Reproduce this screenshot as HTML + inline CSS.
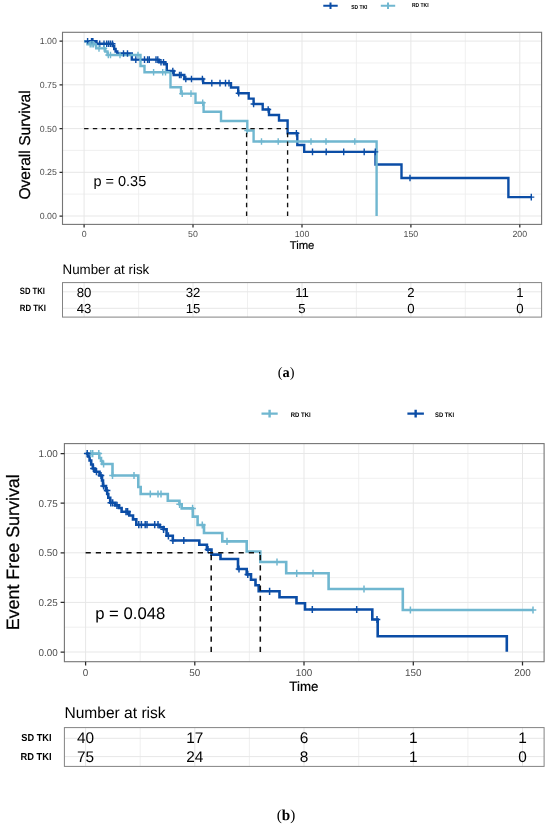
<!DOCTYPE html>
<html><head><meta charset="utf-8"><title>Survival curves</title>
<style>
html,body{margin:0;padding:0;background:#fff;}
body{width:550px;height:826px;overflow:hidden;font-family:"Liberation Sans",sans-serif;}
svg{display:block}
text{font-family:"Liberation Sans",sans-serif;text-rendering:geometricPrecision}
.ser{font-family:"Liberation Serif",serif}
</style></head><body>
<svg width="550" height="826" viewBox="0 0 550 826">
<rect width="550" height="826" fill="#fff"/>

<g>
<path d="M138.6,32.3V224.4M247.5,32.3V224.4M356.4,32.3V224.4M465.3,32.3V224.4M62.5,194.1H541.6M62.5,150.4H541.6M62.5,106.7H541.6M62.5,63.0H541.6" stroke="#ededed" stroke-width="0.85" fill="none"/>
<path d="M84.1,32.3V224.4M193.0,32.3V224.4M302.0,32.3V224.4M410.9,32.3V224.4M519.8,32.3V224.4M62.5,216.0H541.6M62.5,172.3H541.6M62.5,128.6H541.6M62.5,84.8H541.6M62.5,41.1H541.6" stroke="#e7e7e7" stroke-width="1" fill="none"/>
<path d="M84.3,41.2H96.5V43.7H112.8V46.0H114.2V49.0H115.6V51.5H117.3V53.5H131.8V59.6H159.0V62.2H165.3V64.2H166.8V71.0H173.7V75.0H184.3V79.0H203.2V83.1H231.0V87.5H238.2V93.2H248.7V98.6H253.6V104.0H262.7V109.5H269.0V115.0H279.0V120.5H287.6V133.2H297.3V145.0H304.2V151.9H375.5V164.5H401.5V178.0H508.4V197.1H531.3" stroke="#0b4da6" stroke-width="2.4" fill="none" stroke-linejoin="miter"/>
<path d="M84.3,41.2H87.5V44.3H96.2V48.4H105.3V51.5H107.5V55.0H140.5V66.0H144.5V72.2H170.5V87.3H181.0V93.6H195.5V102.7H203.6V111.8H221.0V121.0H247.3V130.5H253.6V141.5H376.6V216.0" stroke="#70b7d0" stroke-width="2.4" fill="none" stroke-linejoin="miter"/>
<path d="M87.6,37.9v6.6M84.6,41.2h6.0M91.5,37.9v6.6M88.5,41.2h6.0M92.9,37.9v6.6M89.9,41.2h6.0M99.7,40.4v6.6M96.7,43.7h6.0M104.0,40.4v6.6M101.0,43.7h6.0M106.7,40.4v6.6M103.7,43.7h6.0M108.6,40.4v6.6M105.6,43.7h6.0M110.5,40.4v6.6M107.5,43.7h6.0M112.5,40.4v6.6M109.5,43.7h6.0M123.5,50.2v6.6M120.5,53.5h6.0M127.5,50.2v6.6M124.5,53.5h6.0M135.8,56.3v6.6M132.8,59.6h6.0M144.5,56.3v6.6M141.5,59.6h6.0M147.6,56.3v6.6M144.6,59.6h6.0M149.3,56.3v6.6M146.3,59.6h6.0M156.0,56.3v6.6M153.0,59.6h6.0M157.8,56.3v6.6M154.8,59.6h6.0M161.0,58.9v6.6M158.0,62.2h6.0M163.5,58.9v6.6M160.5,62.2h6.0M172.8,67.7v6.6M169.8,71.0h6.0M179.5,71.7v6.6M176.5,75.0h6.0M181.1,71.7v6.6M178.1,75.0h6.0M185.8,75.7v6.6M182.8,79.0h6.0M191.5,75.7v6.6M188.5,79.0h6.0M202.4,75.7v6.6M199.4,79.0h6.0M211.8,79.8v6.6M208.8,83.1h6.0M220.0,79.8v6.6M217.0,83.1h6.0M225.5,79.8v6.6M222.5,83.1h6.0M229.0,79.8v6.6M226.0,83.1h6.0M238.7,89.9v6.6M235.7,93.2h6.0M253.6,100.7v6.6M250.6,104.0h6.0M268.2,106.2v6.6M265.2,109.5h6.0M296.4,129.9v6.6M293.4,133.2h6.0M312.5,148.6v6.6M309.5,151.9h6.0M326.2,148.6v6.6M323.2,151.9h6.0M343.7,148.6v6.6M340.7,151.9h6.0M364.2,148.6v6.6M361.2,151.9h6.0M375.3,148.6v6.6M372.3,151.9h6.0M410.0,174.7v6.6M407.0,178.0h6.0M531.3,193.8v6.6M528.3,197.1h6.0" stroke="#0b4da6" stroke-width="1.4" fill="none"/>
<path d="M90.2,41.0v6.6M87.2,44.3h6.0M92.0,41.0v6.6M89.0,44.3h6.0M93.6,41.0v6.6M90.6,44.3h6.0M99.0,45.1v6.6M96.0,48.4h6.0M104.2,45.1v6.6M101.2,48.4h6.0M108.3,51.7v6.6M105.3,55.0h6.0M110.5,51.7v6.6M107.5,55.0h6.0M120.0,51.7v6.6M117.0,55.0h6.0M138.0,51.7v6.6M135.0,55.0h6.0M153.6,68.9v6.6M150.6,72.2h6.0M162.7,68.9v6.6M159.7,72.2h6.0M165.5,68.9v6.6M162.5,72.2h6.0M182.2,90.3v6.6M179.2,93.6h6.0M191.0,90.3v6.6M188.0,93.6h6.0M202.7,99.4v6.6M199.7,102.7h6.0M247.3,127.2v6.6M244.3,130.5h6.0M261.5,138.2v6.6M258.5,141.5h6.0M278.2,138.2v6.6M275.2,141.5h6.0M311.0,138.2v6.6M308.0,141.5h6.0M326.0,138.2v6.6M323.0,141.5h6.0M354.8,138.2v6.6M351.8,141.5h6.0" stroke="#70b7d0" stroke-width="1.4" fill="none"/>
<path d="M84.1,128.6H287.6M246.6,216.0V128.6M287.6,216.0V128.6" stroke="#111" stroke-width="1.35" stroke-dasharray="4.4 4.35" fill="none"/>
<rect x="62.5" y="32.3" width="479.1" height="192.1" fill="none" stroke="#757575" stroke-width="1.1"/>
<path d="M84.1,224.4v3M193.0,224.4v3M302.0,224.4v3M410.9,224.4v3M519.8,224.4v3M62.5,216.0h-3M62.5,172.3h-3M62.5,128.6h-3M62.5,84.8h-3M62.5,41.1h-3" stroke="#2a2a2a" stroke-width="1.25" fill="none"/>
<text x="84.1" y="236.9" font-size="8.8" fill="#4d4d4d" text-anchor="middle">0</text>
<text x="193.0" y="236.9" font-size="8.8" fill="#4d4d4d" text-anchor="middle">50</text>
<text x="302.0" y="236.9" font-size="8.8" fill="#4d4d4d" text-anchor="middle">100</text>
<text x="410.9" y="236.9" font-size="8.8" fill="#4d4d4d" text-anchor="middle">150</text>
<text x="519.8" y="236.9" font-size="8.8" fill="#4d4d4d" text-anchor="middle">200</text>
<text x="56.9" y="219.2" font-size="8.8" fill="#4d4d4d" text-anchor="end">0.00</text>
<text x="56.9" y="175.4" font-size="8.8" fill="#4d4d4d" text-anchor="end">0.25</text>
<text x="56.9" y="131.7" font-size="8.8" fill="#4d4d4d" text-anchor="end">0.50</text>
<text x="56.9" y="88.0" font-size="8.8" fill="#4d4d4d" text-anchor="end">0.75</text>
<text x="56.9" y="44.3" font-size="8.8" fill="#4d4d4d" text-anchor="end">1.00</text>
<text x="302" y="249.2" font-size="11.3" fill="#000" stroke="#000" stroke-width="0.2" text-anchor="middle">Time</text>
<text transform="translate(29.5,145.0) rotate(-90)" font-size="15.6" fill="#000" stroke="#000" stroke-width="0.25" text-anchor="middle">Overall Survival</text>
<text x="93.4" y="186.4" font-size="14.5" fill="#000">p = 0.35</text>
<path d="M323.3,5.7H337.7M330.5,2.4000000000000004V9.0" stroke="#0b4da6" stroke-width="2.0" fill="none"/>
<text x="351.2" y="8.5" font-size="5.9" font-weight="bold" fill="#000" textLength="16.2" lengthAdjust="spacingAndGlyphs">SD TKI</text>
<path d="M380.8,5.7H395.2M388.0,2.4000000000000004V9.0" stroke="#70b7d0" stroke-width="2.0" fill="none"/>
<text x="412" y="7.1" font-size="5.9" font-weight="bold" fill="#000" textLength="16.6" lengthAdjust="spacingAndGlyphs">RD TKI</text>
<text x="62.5" y="274" font-size="13.7" fill="#000" textLength="86.8" lengthAdjust="spacingAndGlyphs">Number at risk</text>
<path d="M138.6,282.6V317.1M247.5,282.6V317.1M356.4,282.6V317.1M465.3,282.6V317.1" stroke="#ededed" stroke-width="0.85" fill="none"/>
<path d="M84.1,282.6V317.1M193.0,282.6V317.1M302.0,282.6V317.1M410.9,282.6V317.1M519.8,282.6V317.1M62.5,291.8H541.6M62.5,308.3H541.6" stroke="#e7e7e7" stroke-width="1" fill="none"/>
<rect x="62.5" y="282.6" width="479.1" height="34.5" fill="none" stroke="#838383" stroke-width="1"/>
<text x="19.8" y="294.4" font-size="9.2" font-weight="bold" fill="#000" textLength="25.2" lengthAdjust="spacingAndGlyphs">SD TKI</text>
<text x="84.1" y="296.7" font-size="13.2" fill="#000" text-anchor="middle">80</text>
<text x="193.0" y="296.7" font-size="13.2" fill="#000" text-anchor="middle">32</text>
<text x="302.0" y="296.7" font-size="13.2" fill="#000" text-anchor="middle">11</text>
<text x="410.9" y="296.7" font-size="13.2" fill="#000" text-anchor="middle">2</text>
<text x="519.8" y="296.7" font-size="13.2" fill="#000" text-anchor="middle">1</text>
<text x="19.8" y="311.3" font-size="9.2" font-weight="bold" fill="#000" textLength="26.1" lengthAdjust="spacingAndGlyphs">RD TKI</text>
<text x="84.1" y="313.1" font-size="13.2" fill="#000" text-anchor="middle">43</text>
<text x="193.0" y="313.1" font-size="13.2" fill="#000" text-anchor="middle">15</text>
<text x="302.0" y="313.1" font-size="13.2" fill="#000" text-anchor="middle">5</text>
<text x="410.9" y="313.1" font-size="13.2" fill="#000" text-anchor="middle">0</text>
<text x="519.8" y="313.1" font-size="13.2" fill="#000" text-anchor="middle">0</text>
<text class="ser" x="286.2" y="376.9" font-size="14.4" fill="#000" text-anchor="middle">(<tspan font-weight="bold">a</tspan>)</text>
</g>
<g>
<path d="M140.2,443.6V661.7M249.4,443.6V661.7M358.7,443.6V661.7M467.9,443.6V661.7M64.4,627.2H544.1M64.4,577.6H544.1M64.4,527.9H544.1M64.4,478.3H544.1" stroke="#ededed" stroke-width="0.85" fill="none"/>
<path d="M85.6,443.6V661.7M194.8,443.6V661.7M304.0,443.6V661.7M413.3,443.6V661.7M522.5,443.6V661.7M64.4,652.0H544.1M64.4,602.4H544.1M64.4,552.8H544.1M64.4,503.1H544.1M64.4,453.5H544.1" stroke="#e7e7e7" stroke-width="1" fill="none"/>
<path d="M85.8,453.6H99.3V458.0H101.0V461.0H102.3V464.0H112.5V475.5H138.3V487.0H140.7V494.0H167.8V500.8H179.4V504.3H181.7V508.4H192.8V516.6H197.6V525.0H204.0V533.0H222.3V541.4H246.7V551.5H260.3V562.0H286.2V573.3H328.6V589.0H402.8V610.0H533.0" stroke="#70b7d0" stroke-width="2.6" fill="none" stroke-linejoin="miter"/>
<path d="M86.3,453.6H88.2V456.5H89.6V460.5H91.2V464.5H92.8V468.5H95.0V471.7H99.5V475.5H102.0V480.5H103.0V486.0H106.0V490.5H107.2V494.0H108.3V497.7H110.2V502.8H115.3V505.4H119.0V508.0H121.6V511.7H129.3V515.5H133.0V519.4H136.3V524.7H159.8V527.2H163.6V529.3H166.6V535.8H172.8V540.5H199.3V544.8H206.9V549.6H211.5V554.6H220.5V559.0H238.0V569.0H246.7V574.4H251.0V579.8H255.5V585.3H258.7V591.3H279.5V597.2H296.5V603.2H305.0V609.5H372.3V619.5H377.7V636.2H506.8V651.8" stroke="#0b4da6" stroke-width="2.6" fill="none" stroke-linejoin="miter"/>
<path d="M90.8,450.0v7.2M87.5,453.6h6.6M92.7,450.0v7.2M89.4,453.6h6.6M98.8,450.0v7.2M95.5,453.6h6.6M103.6,460.4v7.2M100.3,464.0h6.6M112.5,471.9v7.2M109.2,475.5h6.6M134.0,471.9v7.2M130.7,475.5h6.6M150.3,490.4v7.2M147.0,494.0h6.6M158.0,490.4v7.2M154.7,494.0h6.6M161.0,490.4v7.2M157.7,494.0h6.6M179.6,500.7v7.2M176.3,504.3h6.6M192.6,504.8v7.2M189.3,508.4h6.6M202.3,521.4v7.2M199.0,525.0h6.6M227.0,537.8v7.2M223.7,541.4h6.6M277.0,558.4v7.2M273.7,562.0h6.6M296.7,569.7v7.2M293.4,573.3h6.6M313.0,569.7v7.2M309.7,573.3h6.6M364.0,585.4v7.2M360.7,589.0h6.6M410.4,606.4v7.2M407.1,610.0h6.6M533.0,606.4v7.2M529.7,610.0h6.6" stroke="#70b7d0" stroke-width="1.5" fill="none"/>
<path d="M87.2,450.0v7.2M83.9,453.6h6.6M93.4,464.9v7.2M90.1,468.5h6.6M96.5,468.1v7.2M93.2,471.7h6.6M101.0,471.9v7.2M97.7,475.5h6.6M103.6,482.4v7.2M100.3,486.0h6.6M107.1,486.9v7.2M103.8,490.5h6.6M110.8,499.2v7.2M107.5,502.8h6.6M112.7,499.2v7.2M109.4,502.8h6.6M117.0,501.8v7.2M113.7,505.4h6.6M126.0,508.1v7.2M122.7,511.7h6.6M127.6,508.1v7.2M124.3,511.7h6.6M138.8,521.1v7.2M135.5,524.7h6.6M141.4,521.1v7.2M138.1,524.7h6.6M145.2,521.1v7.2M141.9,524.7h6.6M147.0,521.1v7.2M143.7,524.7h6.6M154.7,521.1v7.2M151.4,524.7h6.6M158.0,521.1v7.2M154.7,524.7h6.6M163.6,525.7v7.2M160.3,529.3h6.6M168.4,532.2v7.2M165.1,535.8h6.6M172.9,536.9v7.2M169.6,540.5h6.6M183.8,536.9v7.2M180.5,540.5h6.6M208.0,546.0v7.2M204.7,549.6h6.6M239.0,565.4v7.2M235.7,569.0h6.6M247.8,570.8v7.2M244.5,574.4h6.6M269.6,587.7v7.2M266.3,591.3h6.6M312.3,605.9v7.2M309.0,609.5h6.6M356.7,605.9v7.2M353.4,609.5h6.6M377.0,615.9v7.2M373.7,619.5h6.6" stroke="#0b4da6" stroke-width="1.5" fill="none"/>
<path d="M85.6,552.8H260.3M211.2,652.0V552.8M260.3,652.0V552.8" stroke="#111" stroke-width="1.55" stroke-dasharray="5.2 5" fill="none"/>
<rect x="64.4" y="443.6" width="479.7" height="218.1" fill="none" stroke="#757575" stroke-width="1.1"/>
<path d="M85.6,661.7v3.8M194.8,661.7v3.8M304.0,661.7v3.8M413.3,661.7v3.8M522.5,661.7v3.8M64.4,652.0h-3.8M64.4,602.4h-3.8M64.4,552.8h-3.8M64.4,503.1h-3.8M64.4,453.5h-3.8" stroke="#2a2a2a" stroke-width="1.25" fill="none"/>
<text x="85.6" y="675.6" font-size="9.9" fill="#4d4d4d" text-anchor="middle">0</text>
<text x="194.8" y="675.6" font-size="9.9" fill="#4d4d4d" text-anchor="middle">50</text>
<text x="304.0" y="675.6" font-size="9.9" fill="#4d4d4d" text-anchor="middle">100</text>
<text x="413.3" y="675.6" font-size="9.9" fill="#4d4d4d" text-anchor="middle">150</text>
<text x="522.5" y="675.6" font-size="9.9" fill="#4d4d4d" text-anchor="middle">200</text>
<text x="57.800000000000004" y="655.6" font-size="9.9" fill="#4d4d4d" text-anchor="end">0.00</text>
<text x="57.800000000000004" y="605.9" font-size="9.9" fill="#4d4d4d" text-anchor="end">0.25</text>
<text x="57.800000000000004" y="556.3" font-size="9.9" fill="#4d4d4d" text-anchor="end">0.50</text>
<text x="57.800000000000004" y="506.7" font-size="9.9" fill="#4d4d4d" text-anchor="end">0.75</text>
<text x="57.800000000000004" y="457.1" font-size="9.9" fill="#4d4d4d" text-anchor="end">1.00</text>
<text x="303.9" y="690.6" font-size="13.3" fill="#000" stroke="#000" stroke-width="0.2" text-anchor="middle">Time</text>
<text transform="translate(19.0,552.3) rotate(-90)" font-size="17.9" fill="#000" stroke="#000" stroke-width="0.25" text-anchor="middle">Event Free Survival</text>
<text x="95.2" y="619" font-size="16.7" fill="#000">p = 0.048</text>
<path d="M261.5,413.6H277.7M269.6,409.8V417.40000000000003" stroke="#70b7d0" stroke-width="2.4" fill="none"/>
<text x="290.8" y="416.5" font-size="6.7" font-weight="bold" fill="#000" textLength="19.9" lengthAdjust="spacingAndGlyphs">RD TKI</text>
<path d="M407.4,413.6H423.9M415.65,409.8V417.40000000000003" stroke="#0b4da6" stroke-width="2.4" fill="none"/>
<text x="435" y="416.5" font-size="6.7" font-weight="bold" fill="#000" textLength="19.1" lengthAdjust="spacingAndGlyphs">SD TKI</text>
<text x="64.4" y="718" font-size="15.8" fill="#000" textLength="101.2" lengthAdjust="spacingAndGlyphs">Number at risk</text>
<path d="M140.2,727.6V766.4M249.4,727.6V766.4M358.7,727.6V766.4M467.9,727.6V766.4" stroke="#ededed" stroke-width="0.85" fill="none"/>
<path d="M85.6,727.6V766.4M194.8,727.6V766.4M304.0,727.6V766.4M413.3,727.6V766.4M522.5,727.6V766.4M64.4,738.3H544.1M64.4,756.6H544.1" stroke="#e7e7e7" stroke-width="1" fill="none"/>
<rect x="64.4" y="727.6" width="479.7" height="38.8" fill="none" stroke="#838383" stroke-width="1"/>
<text x="21.3" y="740.7" font-size="10.2" font-weight="bold" fill="#000" textLength="30.2" lengthAdjust="spacingAndGlyphs">SD TKI</text>
<text x="85.6" y="743.3" font-size="15.4" fill="#000" text-anchor="middle">40</text>
<text x="194.8" y="743.3" font-size="15.4" fill="#000" text-anchor="middle">17</text>
<text x="304.0" y="743.3" font-size="15.4" fill="#000" text-anchor="middle">6</text>
<text x="413.3" y="743.3" font-size="15.4" fill="#000" text-anchor="middle">1</text>
<text x="522.5" y="743.3" font-size="15.4" fill="#000" text-anchor="middle">1</text>
<text x="20.4" y="760.0" font-size="10.2" font-weight="bold" fill="#000" textLength="31.1" lengthAdjust="spacingAndGlyphs">RD TKI</text>
<text x="85.6" y="761.8" font-size="15.4" fill="#000" text-anchor="middle">75</text>
<text x="194.8" y="761.8" font-size="15.4" fill="#000" text-anchor="middle">24</text>
<text x="304.0" y="761.8" font-size="15.4" fill="#000" text-anchor="middle">8</text>
<text x="413.3" y="761.8" font-size="15.4" fill="#000" text-anchor="middle">1</text>
<text x="522.5" y="761.8" font-size="15.4" fill="#000" text-anchor="middle">0</text>
<text class="ser" x="286.1" y="820.0" font-size="15.2" fill="#000" text-anchor="middle">(<tspan font-weight="bold">b</tspan>)</text>
</g>
</svg>
</body></html>
